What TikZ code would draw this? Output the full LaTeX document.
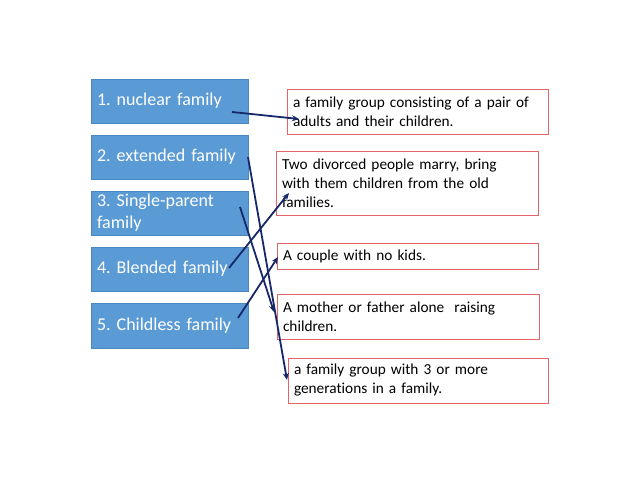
\documentclass[tikz,border=0pt]{standalone}
\usepackage{fontspec}
\setmainfont{Carlito}[Ligatures=NoCommon]
\usetikzlibrary{arrows.meta}
\frenchspacing
\lefthyphenmin=64
\definecolor{boxblue}{RGB}{91,155,213}
\definecolor{boxblueline}{RGB}{75,135,195}
\definecolor{boxred}{RGB}{226,100,104}
\definecolor{navy}{RGB}{22,40,105}
\tikzset{
  famtype/.style={draw=boxblueline, fill=boxblue, line width=0.8pt, text=white, inner xsep=6pt, inner ysep=0pt,
    minimum width=157pt, minimum height=44pt, text width=145pt, align=left,
    font=\fontsize{18}{22}\selectfont},
  defbox/.style={draw=boxred, line width=0.9pt, inner xsep=6pt, inner ysep=0pt,
    minimum height=45pt, align=left, font=\fontsize{15.3}{19}\selectfont},
  link/.style={draw=navy, line width=1.8pt, -{Stealth[length=7pt,width=6pt]}}
}
\begin{document}
\begin{tikzpicture}[x=1pt,y=1pt]
\useasboundingbox (0,0) rectangle (638,478);
% left boxes
\node[famtype] (b1) at (169.5,377) {1. nuclear family};
\node[famtype] (b2) at (169.5,321) {2. extended family};
\node[famtype] (b3) at (169.5,265) {3. Single-parent family};
\node[famtype] (b4) at (169.5,209) {4. Blended family};
\node[famtype, minimum height=45pt] (b5) at (169.5,152.5) {5. Childless family};
% right boxes
\node[defbox, minimum width=261pt, text width=249pt] (r1) at (417.5,366.5) {a family group consisting of a pair of\\adults and their children.};
\node[defbox, minimum width=262pt, text width=250pt, minimum height=64pt] (r2) at (407,295) {Two divorced people marry, bring\\with them children from the old\\families.};
\node[defbox, minimum width=261pt, text width=249pt, minimum height=26pt] (r3) at (407.5,222) {A couple with no kids.};
\node[defbox, minimum width=262pt, text width=250pt] (r4) at (408,161.5) {A mother or father alone\ \ raising\\children.};
\node[defbox, minimum width=260pt, text width=248pt] (r5) at (418,97.5) {a family group with 3 or more\\generations in a family.};
% connector ends
\coordinate (s1) at (232,366);
\coordinate (e1) at (299,359);
\coordinate (s2) at (248,321);
\coordinate (e2) at (287,98);
\coordinate (s3) at (240,271);
\coordinate (e3) at (274,166);
\coordinate (s4) at (229,210);
\coordinate (e4) at (289,285);
\coordinate (s5) at (238,160);
\coordinate (e5) at (278,221);
\draw[link] (s1) -- (e1);
\draw[link] (s2) -- (e2);
\draw[link] (s3) -- (e3);
\draw[link] (s4) -- (e4);
\draw[link] (s5) -- (e5);
\end{tikzpicture}
\end{document}
